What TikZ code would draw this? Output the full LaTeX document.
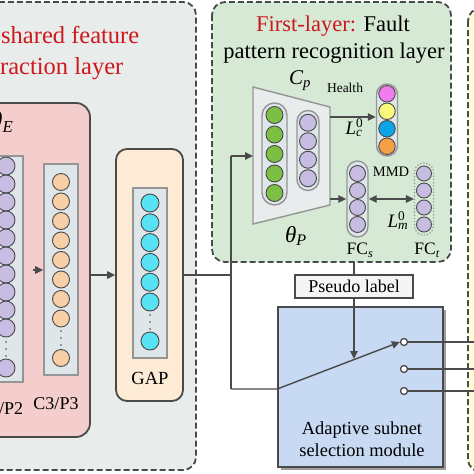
\documentclass[tikz,border=0pt]{standalone}
\usepackage{fontspec}
\setmainfont{Liberation Serif}
\usetikzlibrary{arrows.meta}
\definecolor{dgray}{HTML}{4A4A4A}
\definecolor{mgray}{HTML}{959595}
\definecolor{tred}{RGB}{205,25,30}
\definecolor{grayfill}{HTML}{E8EDEB}
\definecolor{greenfill}{HTML}{D5E9D4}
\definecolor{pinkfill}{HTML}{F4CDCD}
\definecolor{peachfill}{HTML}{FDEBD6}
\definecolor{colfill}{HTML}{DFE6EA}
\definecolor{bluefill}{HTML}{C7D9F3}
\definecolor{yellowfill}{HTML}{FFFDD6}
\definecolor{trapfill}{HTML}{E8ECEC}
\definecolor{cpurple}{HTML}{C7BDE3}
\definecolor{corange}{HTML}{F9CFA8}
\definecolor{ccyan}{HTML}{58E3F5}
\definecolor{cgreen}{HTML}{7CC043}
\definecolor{cmag}{HTML}{F07CF0}
\definecolor{cyel}{HTML}{FBF97A}
\definecolor{cblue}{HTML}{0AA5E8}
\definecolor{cora}{HTML}{F5A045}
\newcommand{\fsz}[1]{\fontsize{#1}{#1}\selectfont}
\begin{document}
\begin{tikzpicture}[x=1pt,y=-1pt,
  dbox/.style={draw=dgray, line width=1.8pt, dash pattern=on 6pt off 3pt, rounded corners=13pt},
  ball/.style={circle, draw=dgray, line width=0.9pt, inner sep=0pt, minimum size=#1},
  colbox/.style={draw=mgray, line width=1.6pt, fill=colfill, inner sep=0pt},
  caps/.style={draw=mgray, line width=1.4pt, fill=colfill, inner sep=0pt, rounded corners=#1},
  conn/.style={draw=dgray, line width=1.4pt},
  arr/.style={conn, -{Triangle[length=8pt,width=7.5pt]}},
  darr/.style={conn, {Triangle[length=8pt,width=7.5pt]}-{Triangle[length=8pt,width=7.5pt]}},
  lbl/.style={inner sep=0pt, font=\fsz{#1}},
]
\useasboundingbox (0,0) rectangle (474,474);
\clip (0,0) rectangle (474,474);

% ---------- left region
\draw[dbox, fill=grayfill] (-30,2) rectangle (196,470);
\node[lbl=24.5, text=tred, anchor=base west] (t1) at (1,43) {shared feature};
\node[lbl=24.5, text=tred, anchor=base west] (t2) at (0,74) {raction layer};

\node[draw=dgray, line width=1.8pt, fill=pinkfill, rounded corners=14pt,
      minimum width=110pt, minimum height=334pt, inner sep=0pt] (pinkbox) at (35,270) {};
\node[lbl=24] (thE) at (2,122) {\itshape θ\textsubscript{\itshape E}};

% column 1
\node[colbox, minimum width=38pt, minimum height=226pt] (col1) at (4,269) {};
\foreach \i in {0,...,9} \node[ball=18pt, fill=cpurple] (p\i) at (6,{166+18*\i}) {};
\foreach \yy in {342,349,356} \fill[dgray] (6,\yy) circle (0.9pt);
\node[ball=18pt, fill=cpurple] (plast) at (6,368) {};
\node[lbl=18, anchor=west] (l1) at (-1,409) {/P2};

% column 2
\node[colbox, minimum width=34pt, minimum height=211pt] (col2) at (61,269.5) {};
\foreach \i in {0,...,7} \node[ball=17pt, fill=corange] (o\i) at (61,{182+19.5*\i}) {};
\foreach \yy in {331,338,345} \fill[dgray] (61,\yy) circle (0.9pt);
\node[ball=17pt, fill=corange] (olast) at (61,358) {};
\node[lbl=18] (l2) at (56,404) {C3/P3};
\coordinate (a0) at (33,270);
\draw[arr] (a0) -- (a0 -| col2.west);

% GAP
\node[draw=dgray, line width=1.8pt, fill=peachfill, rounded corners=11pt,
      minimum width=67pt, minimum height=252pt, inner sep=0pt] (gap) at (149.5,275) {};
\node[colbox, minimum width=34pt, minimum height=170pt] (gapcol) at (150,273) {};
\foreach \i in {0,...,5} \node[ball=18pt, fill=ccyan] (g\i) at (150,{203+19.8*\i}) {};
\foreach \yy in {315,322,329} \fill[dgray] (150,\yy) circle (0.9pt);
\node[ball=18pt, fill=ccyan] (glast) at (150,341) {};
\node[lbl=18.5] (gapl) at (150,378) {GAP};
\draw[arr] ([yshift=-5pt]pinkbox.east) -- (gap.west);

% ---------- right yellow region
\draw[dbox, fill=yellowfill] (468,8) rectangle (530,472);

% ---------- green region
\draw[dbox, fill=greenfill] (212,2) rectangle (451,262);
\node[lbl=22.5, anchor=base] (g1) at (333,31) {{\color{tred}First-layer:} Fault};
\node[lbl=22.5, anchor=base] (g2) at (334,58) {pattern recognition layer};

\draw[draw=mgray, line width=1.4pt, fill=trapfill] (253,87) -- (330,107) -- (330,205) -- (253,224) -- cycle;
\node[caps=12.5pt, minimum width=25pt, minimum height=102pt] (gcap) at (274.5,154) {};
\foreach \i in {0,...,4} \node[ball=17pt, fill=cgreen] (gr\i) at (274.5,{115+19.5*\i}) {};
\node[caps=11pt, minimum width=22pt, minimum height=80pt] (pcap) at (308,150.5) {};
\foreach \i in {0,...,3} \node[ball=17pt, fill=cpurple] (pp\i) at (308,{122.75+18.5*\i}) {};

\node[lbl=21] (cp) at (300,81) {\itshape C\textsubscript{\itshape p}};
\node[lbl=13.5] (health) at (345,88) {Health};
\node[lbl=23] (thP) at (296,236) {\itshape θ\textsubscript{\itshape P}};

% health capsule
\node[caps=10.5pt, minimum width=21pt, minimum height=72pt] (hcap) at (387,120) {};
\node[ball=16.5pt, fill=cmag] (h0) at (387,93.75) {};
\node[ball=16.5pt, fill=cyel] (h1) at (387,111.25) {};
\node[ball=16.5pt, fill=cblue] (h2) at (387,128.75) {};
\node[ball=16.5pt, fill=cora] (h3) at (387,146.25) {};
\coordinate (trapR1) at (330,117);
\draw[arr] (trapR1) -- (hcap.west |- trapR1);
\node[lbl=19] (lc) at (354,128) {\itshape L\rlap{\textsuperscript{\upshape 0}}\textsubscript{c}};

% FC_s
\node[caps=10.5pt, minimum width=21pt, minimum height=76pt] (fcs) at (357.5,199) {};
\foreach \i in {0,...,3} \node[ball=16pt, fill=cpurple] (s\i) at (357.5,{173.5+17*\i}) {};
\node[lbl=17.5] (fcsl) at (360,250) {FC\textsubscript{\itshape s}};
\coordinate (trapR2) at (330,199);
\draw[arr] (trapR2) -- (fcs.west |- trapR2);

% FC_t
\node[draw=mgray, line width=1.2pt, dotted, rounded corners=9pt, inner sep=0pt,
      minimum width=19pt, minimum height=72pt] (fct) at (424,199) {};
\foreach \i in {0,...,3} \node[ball=15pt, fill=cpurple] (t\i) at (424,{173.5+17*\i}) {};
\node[lbl=17.5] (fctl) at (427,250) {FC\textsubscript{\itshape t}};

\draw[darr] (fcs.east) -- (fct.west);
\node[lbl=14.5] (mmd) at (391,172) {MMD};
\node[lbl=19] (lm) at (398,221) {\itshape L\rlap{\textsuperscript{\upshape 0}}\textsubscript{m}};

% ---------- pseudo label and module
\node[draw=dgray, line width=1.4pt, fill=gray!8, minimum width=118pt, minimum height=23pt,
      inner sep=0pt, lbl=18] (pl) at (354,286.5) {Pseudo label};
\fill[gray!75] (281,310) rectangle (446,470);
\node[draw=dgray, line width=1.6pt, fill=bluefill, minimum width=165pt, minimum height=160pt,
      inner sep=0pt] (asm) at (360.5,387) {};
\node[align=center, inner sep=0pt, font=\fontsize{18.4}{22}\selectfont] (asmt) at (362,439)
  {Adaptive subnet\\selection module};

\node[ball=7pt, fill=white, line width=1.3pt] (c1) at (404,342) {};
\node[ball=7pt, fill=white, line width=1.3pt] (c2) at (404,369) {};
\node[ball=7pt, fill=white, line width=1.3pt] (c3) at (404,391) {};
\coordinate (r1) at (478,342);
\coordinate (r2) at (478,369);
\coordinate (r3) at (478,391);
\draw[conn] (c1.east) -- (r1);
\draw[conn] (c2.east) -- (r2);
\draw[conn] (c3.east) -- (r3);

\coordinate (gb) at (354,262);
\coordinate (lv) at (354,359);
\draw[conn] (gb) -- (pl.north);
\draw[arr] (pl.south) -- (lv);

% ---------- trunk connector
\coordinate (j) at (231,275);
\coordinate (jt) at (231,156);
\coordinate (jb) at (231,389);
\coordinate (trapL) at (253,156);
\draw[conn] (gap.east) -- (j);
\draw[conn] (jt) -- (jb);
\draw[arr] (jt) -- (trapL);
\draw[arr] (jb) -- (asm.west |- jb) -- (c1.west);
\end{tikzpicture}
\end{document}
